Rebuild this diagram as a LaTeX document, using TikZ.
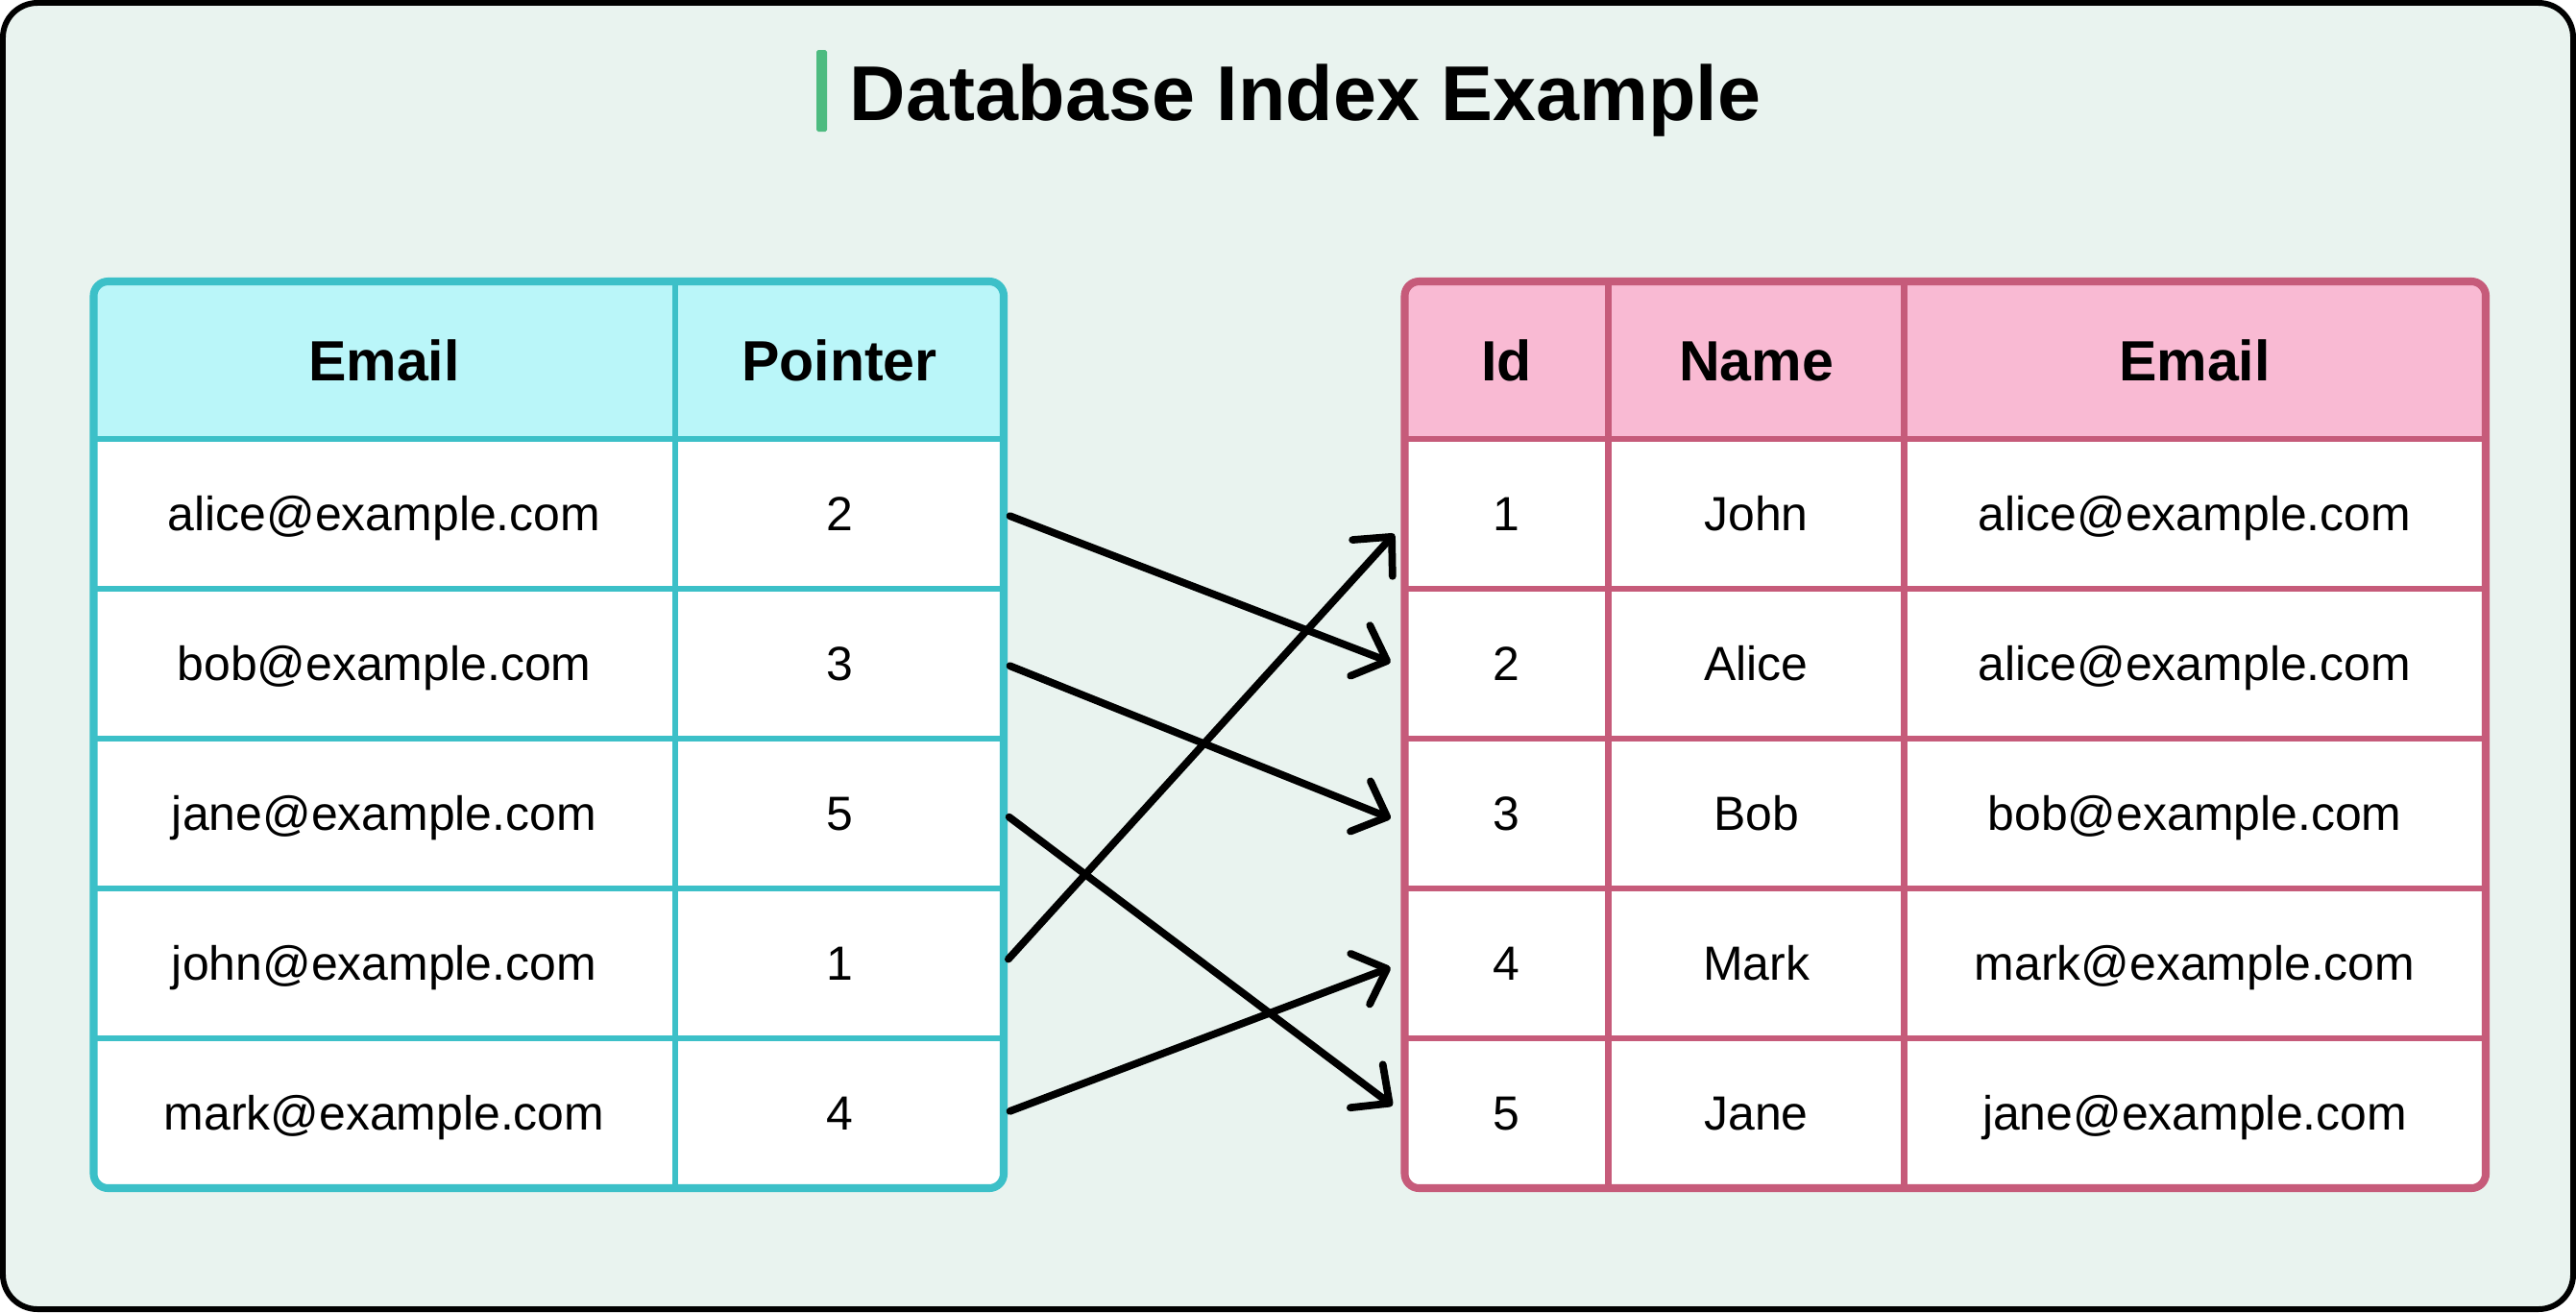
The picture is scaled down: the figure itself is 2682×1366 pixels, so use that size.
\documentclass[tikz,border=0pt]{standalone}
\usepackage{fontspec}
\setmainfont{Liberation Sans}
\usetikzlibrary{arrows.meta}
\definecolor{bg}{HTML}{E9F3EF}
\definecolor{tealline}{HTML}{3CC0C8}
\definecolor{tealhead}{HTML}{BAF6F9}
\definecolor{pinkline}{HTML}{C65B7A}
\definecolor{pinkhead}{HTML}{F9BAD3}
\definecolor{titlebar}{HTML}{4DBB80}
\begin{document}
\begin{tikzpicture}[x=0.01cm,y=-0.01cm,
  cell/.style={inner sep=0pt, minimum height=15.6mm, text height=10.2pt, text depth=0pt, font=\fontsize{14.2}{17}\selectfont, text=black},
  headcell/.style={inner sep=0pt, minimum height=16.4mm, text height=12pt, text depth=0pt, font=\bfseries\fontsize{16.8}{20}\selectfont, text=black},
  ptr/.style={line width=2.2pt, line cap=round, -{Straight Barb[length=8.5pt,width=16pt,line cap=round,line join=round]}, shorten <=0.6mm, shorten >=1.5mm},
  tline/.style={line width=1.85pt},
  tborder/.style={line width=2.3pt, rounded corners=1.5mm}
]
\useasboundingbox (0,0) rectangle (2682,1366);
% frame
\draw[line width=1.7pt, fill=bg, rounded corners=3.6mm] (3,3) rectangle (2679,1363);
% title
\fill[titlebar, rounded corners=0.5pt] (850,52) rectangle (861,137);
\node[anchor=base west, inner sep=0pt, font=\bfseries\fontsize{23}{27}\selectfont] (title) at (884,125) {Database Index Example};

% ---------- left table ----------
\begin{scope}
\clip[rounded corners=1.5mm] (97.5,293) rectangle (1045,1237);
\fill[white] (97.5,293) rectangle (1045,1237);
\fill[tealhead] (97.5,293) rectangle (1045,457);
\end{scope}
\foreach \y in {457,613,769,925,1081} \draw[tline, tealline] (97.5,\y) -- (1045,\y);
\draw[tline, tealline] (703,293) -- (703,1237);
\draw[tborder, tealline] (97.5,293) rectangle (1045,1237);

\node[headcell] (lhe) at (400,375) {Email};
\node[headcell] (lhp) at (874,375) {Pointer};
\node[cell] (le1) at (400,535) {alice@example.com};
\node[cell] (le2) at (400,691) {bob@example.com};
\node[cell] (le3) at (400,847) {jane@example.com};
\node[cell] (le4) at (400,1003) {john@example.com};
\node[cell] (le5) at (400,1159) {mark@example.com};
\node[cell, minimum width=34.2mm] (lp1) at (874,535) {2};
\node[cell, minimum width=34.2mm] (lp2) at (874,691) {3};
\node[cell, minimum width=34.2mm] (lp3) at (874,847) {5};
\node[cell, minimum width=34.2mm] (lp4) at (874,1003) {1};
\node[cell, minimum width=34.2mm] (lp5) at (874,1159) {4};

% ---------- right table ----------
\begin{scope}
\clip[rounded corners=1.5mm] (1462.5,293) rectangle (2588,1237);
\fill[white] (1462.5,293) rectangle (2588,1237);
\fill[pinkhead] (1462.5,293) rectangle (2588,457);
\end{scope}
\foreach \y in {457,613,769,925,1081} \draw[tline, pinkline] (1462.5,\y) -- (2588,\y);
\draw[tline, pinkline] (1674.5,293) -- (1674.5,1237);
\draw[tline, pinkline] (1982.5,293) -- (1982.5,1237);
\draw[tborder, pinkline] (1462.5,293) rectangle (2588,1237);

\node[headcell] (rhi) at (1568.5,375) {Id};
\node[headcell] (rhn) at (1828.5,375) {Name};
\node[headcell] (rhe) at (2285,375) {Email};
\node[cell, minimum width=21.2mm] (ri1) at (1568.5,535) {1};
\node[cell, minimum width=21.2mm] (ri2) at (1568.5,691) {2};
\node[cell, minimum width=21.2mm] (ri3) at (1568.5,847) {3};
\node[cell, minimum width=21.2mm] (ri4) at (1568.5,1003) {4};
\node[cell, minimum width=21.2mm] (ri5) at (1568.5,1159) {5};
\node[cell] (rn1) at (1828.5,535) {John};
\node[cell] (rn2) at (1828.5,691) {Alice};
\node[cell] (rn3) at (1828.5,847) {Bob};
\node[cell] (rn4) at (1828.5,1003) {Mark};
\node[cell] (rn5) at (1828.5,1159) {Jane};
\node[cell] (re1) at (2285,535) {alice@example.com};
\node[cell] (re2) at (2285,691) {alice@example.com};
\node[cell] (re3) at (2285,847) {bob@example.com};
\node[cell] (re4) at (2285,1003) {mark@example.com};
\node[cell] (re5) at (2285,1159) {jane@example.com};

% ---------- pointers ----------
\draw[ptr] (lp1.east) -- ([yshift=-1.1pt]ri2.west);
\draw[ptr] (lp2.east) -- ([yshift=-3pt]ri3.west);
\draw[ptr] (lp3.east) -- ([yshift=-0.3pt]ri5.west);
\draw[ptr] (lp4.east) -- ([yshift=-2.8pt]ri1.west);
\draw[ptr] (lp5.east) -- ([yshift=0.3pt]ri4.west);
\end{tikzpicture}
\end{document}
